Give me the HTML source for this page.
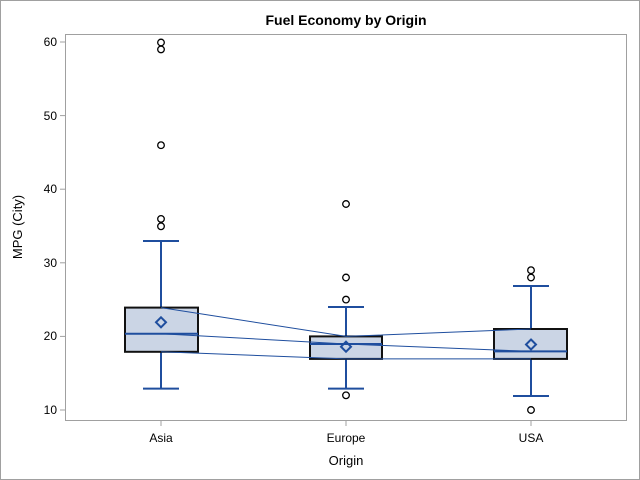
<!DOCTYPE html><html><head><style>body{margin:0}svg{display:block}</style></head><body>
<svg width="640" height="480" viewBox="0 0 640 480" xmlns="http://www.w3.org/2000/svg" font-family="Liberation Sans, sans-serif">
<rect x="0.5" y="0.5" width="639" height="479" fill="#fff" stroke="#a0a0a0"/>
<text x="346" y="25" text-anchor="middle" font-size="14" font-weight="bold">Fuel Economy by Origin</text>
<rect x="65.5" y="34.5" width="561" height="386" fill="none" stroke="#a0a0a0"/>
<g stroke="#a0a0a0"><line x1="60" x2="65" y1="410" y2="410"/><line x1="60" x2="65" y1="336.4" y2="336.4"/><line x1="60" x2="65" y1="262.8" y2="262.8"/><line x1="60" x2="65" y1="189.2" y2="189.2"/><line x1="60" x2="65" y1="115.6" y2="115.6"/><line x1="60" x2="65" y1="42" y2="42"/>
<line x1="161" x2="161" y1="421" y2="426"/><line x1="346" x2="346" y1="421" y2="426"/><line x1="531" x2="531" y1="421" y2="426"/></g>
<g font-size="12" text-anchor="end"><text x="57" y="414">10</text><text x="57" y="340">20</text><text x="57" y="267">30</text><text x="57" y="193">40</text><text x="57" y="120">50</text><text x="57" y="46">60</text></g>
<g font-size="12" text-anchor="middle"><text x="161" y="442">Asia</text><text x="346" y="442">Europe</text><text x="531" y="442">USA</text>
<text x="346" y="465" font-size="13">Origin</text>
<text transform="translate(22,227) rotate(-90)" font-size="13">MPG (City)</text></g>
<g stroke="#1f4e9e" stroke-width="2" fill="none">
<line x1="161" x2="161" y1="388.6" y2="241"/><line x1="143" x2="179" y1="388.6" y2="388.6"/><line x1="143" x2="179" y1="241" y2="241"/>
<line x1="346" x2="346" y1="388.6" y2="307"/><line x1="328" x2="364" y1="388.6" y2="388.6"/><line x1="328" x2="364" y1="307" y2="307"/>
<line x1="531" x2="531" y1="396" y2="286"/><line x1="513" x2="549" y1="396" y2="396"/><line x1="513" x2="549" y1="286" y2="286"/>
</g>
<g fill="#cbd5e5" stroke="#111" stroke-width="2">
<rect x="125" y="307.6" width="73" height="44.2"/>
<rect x="310" y="336.4" width="72" height="22.5"/>
<rect x="494" y="329" width="73" height="29.9"/>
</g>
<g stroke="#1f4e9e" stroke-width="2"><line x1="125" x2="198" y1="333.7" y2="333.7"/><line x1="310" x2="382" y1="344" y2="344"/><line x1="494" x2="567" y1="351.4" y2="351.4"/></g>
<g stroke="#1f4e9e" stroke-width="1" fill="none">
<polyline points="161,307.6 346,336.4 531,329"/>
<polyline points="161,333.7 346,344 531,351.4"/>
<polyline points="161,351.8 346,358.9 531,358.9"/>
</g>
<g stroke="#1f4e9e" stroke-width="2" fill="none">
<path d="M161 317.3 l5 5 l-5 5 l-5 -5z"/><path d="M346 341.7 l5 5 l-5 5 l-5 -5z"/><path d="M531 339.5 l5 5 l-5 5 l-5 -5z"/>
</g>
<g stroke="#000" stroke-width="1.3" fill="none">
<circle cx="161" cy="226.3" r="3.3"/><circle cx="161" cy="218.9" r="3.3"/><circle cx="161" cy="145.2" r="3.3"/><circle cx="161" cy="49.4" r="3.3"/><circle cx="161" cy="42.5" r="3.3"/>
<circle cx="346" cy="395.3" r="3.3"/><circle cx="346" cy="299.6" r="3.3"/><circle cx="346" cy="277.5" r="3.3"/><circle cx="346" cy="204" r="3.3"/>
<circle cx="531" cy="410" r="3.3"/><circle cx="531" cy="277.5" r="3.3"/><circle cx="531" cy="270.2" r="3.3"/>
</g>
</svg></body></html>
